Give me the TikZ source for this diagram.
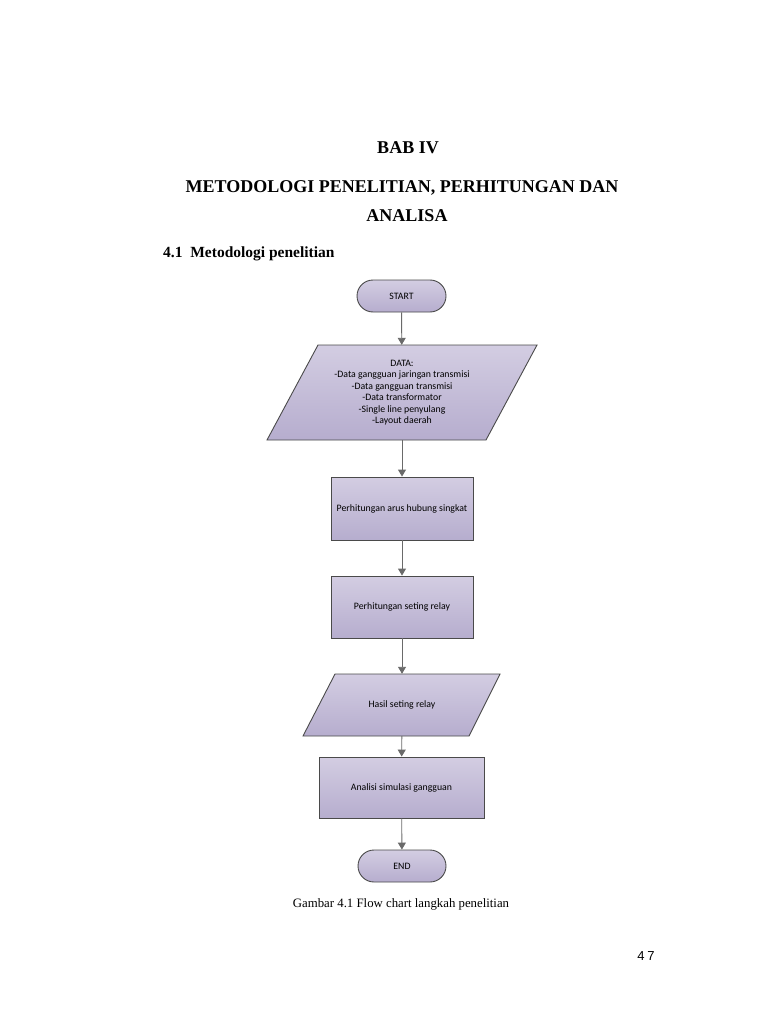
\documentclass[tikz,border=0pt]{standalone}
\usepackage{fontspec}
\setmainfont{Liberation Serif}
\newfontfamily\flowfont{Carlito}
\newfontfamily\pnumfont[LetterSpace=22]{Liberation Sans}
\usetikzlibrary{shapes.misc,arrows.meta}
\definecolor{boxtop}{HTML}{D3CDE2}
\definecolor{boxbot}{HTML}{B6ADCE}
\definecolor{edge}{HTML}{4A4A4A}
\definecolor{arrowc}{HTML}{6A6A6A}
\tikzset{
  x=1pt,y=-1pt,
  flowbox/.style={draw=edge,line width=0.9pt,top color=boxtop,bottom color=boxbot,
    inner sep=0pt,align=center,font=\flowfont\fontsize{9.8}{11.5}\selectfont},
  procbox/.style={flowbox,rectangle},
  termbox/.style={flowbox,rounded rectangle},
  ioshape/.style={draw=edge,line width=0.9pt,top color=boxtop,bottom color=boxbot},
  iolabel/.style={inner sep=0pt,align=center,font=\flowfont\fontsize{9.8}{11.5}\selectfont},
  flowarrow/.style={draw=arrowc,line width=0.9pt,-{Triangle[length=7pt,width=8pt]}},
  title/.style={font=\fontsize{18}{22}\selectfont\bfseries,inner sep=0pt},
}
\begin{document}
\begin{tikzpicture}
\useasboundingbox[fill=white] (0,0) rectangle (768,1024);
% headings
\node[title,anchor=base] (bab) at (408,154) {BAB IV};
\node[title,anchor=base] (judul1) at (402,193) {METODOLOGI PENELITIAN, PERHITUNGAN DAN};
\node[title,anchor=base] (judul2) at (407,222) {ANALISA};
\node[font=\fontsize{15.5}{18}\selectfont\bfseries,inner sep=0pt,anchor=base west] (sub) at (163,258) {4.1\ \ Metodologi penelitian};
% flowchart
\node[termbox,minimum width=89pt,minimum height=32pt] (start) at (401.5,296) {START};
\shade[ioshape] (318,345) -- (537,345) -- (486,440) -- (267,440) -- cycle;
\node[iolabel,minimum width=170pt,minimum height=95pt] (data) at (402,392.5) {DATA:\\-Data gangguan jaringan transmisi\\-Data gangguan transmisi\\-Data transformator\\-Single line penyulang\\-Layout daerah};
\node[procbox,minimum width=142pt,minimum height=63pt] (hitung1) at (402,508.5) {Perhitungan arus hubung singkat};
\node[procbox,minimum width=142pt,minimum height=62pt] (hitung2) at (402,607) {Perhitungan seting relay};
\shade[ioshape] (335,674) -- (500,674) -- (469,736) -- (303,736) -- cycle;
\node[iolabel,minimum width=130pt,minimum height=62pt] (hasil) at (402,705) {Hasil seting relay};
\node[procbox,minimum width=165pt,minimum height=61pt] (analisa) at (401.5,787.5) {Analisi simulasi gangguan};
\node[termbox,minimum width=88pt,minimum height=32pt] (end) at (402,866) {END};
\draw[flowarrow] (start) -- (data);
\draw[flowarrow] (data) -- (hitung1);
\draw[flowarrow] (hitung1) -- (hitung2);
\draw[flowarrow] (hitung2) -- (hasil);
\draw[flowarrow] (hasil) -- (analisa);
\draw[flowarrow] (analisa) -- (end);
% caption and page number
\node[font=\fontsize{12.8}{15}\selectfont,inner sep=0pt,anchor=base] (caption) at (401,907) {Gambar 4.1 Flow chart langkah penelitian};
\node[font=\pnumfont\fontsize{13}{15}\selectfont,inner sep=0pt,anchor=base] (page) at (646,960) {47};
\end{tikzpicture}
\end{document}
